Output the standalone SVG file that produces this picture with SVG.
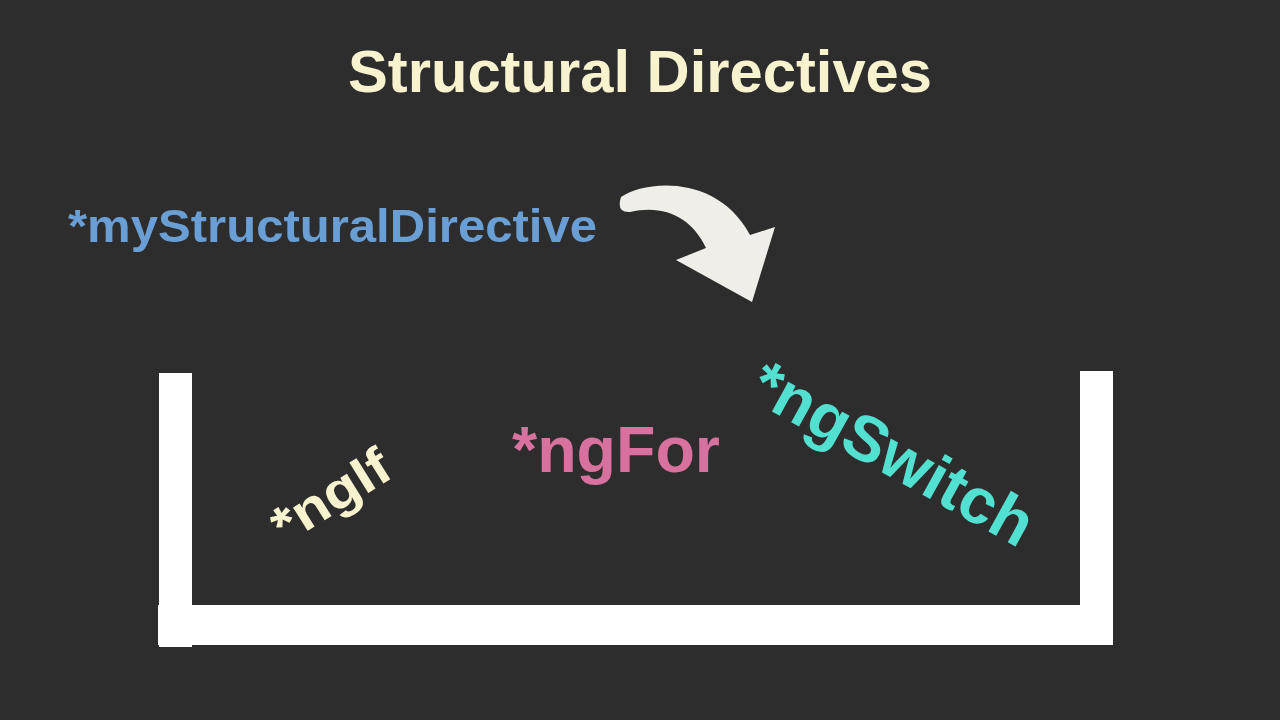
<svg xmlns="http://www.w3.org/2000/svg" width="1280" height="720" viewBox="0 0 1280 720">
<style>
.t{font-family:"Liberation Sans",Arial,sans-serif;font-weight:bold}
.bar{fill:#ffffff}
</style>
<rect width="1280" height="720" fill="#2d2d2d"/>
<g id="title"><text class="t" x="348" y="92" font-size="59" fill="#f8f3cf" textLength="584" lengthAdjust="spacingAndGlyphs">Structural Directives</text></g>
<g id="myStructuralDirective"><text class="t" x="68" y="242" font-size="47" fill="#6a9fd6" textLength="529" lengthAdjust="spacingAndGlyphs">*myStructuralDirective</text></g>
<g id="container">
<rect class="bar" x="159" y="373" width="33" height="274"/>
<rect class="bar" x="158" y="605" width="955" height="40"/>
<rect class="bar" x="1080" y="371" width="33" height="274"/>
</g>
<g id="ngIf"><text class="t" transform="translate(285,545) rotate(-32)" font-size="52" fill="#f8f3cf" textLength="130" lengthAdjust="spacingAndGlyphs">*ngIf</text></g>
<g id="ngFor"><text class="t" x="512" y="472" font-size="64" fill="#d9719f" textLength="208" lengthAdjust="spacingAndGlyphs">*ngFor</text></g>
<g id="ngSwitch"><text class="t" transform="translate(746,397) rotate(29)" font-size="64" fill="#52e0d0" textLength="312" lengthAdjust="spacingAndGlyphs">*ngSwitch</text></g>
<g id="connectors">
<path d="M621,197 C645,180 718,174 750,235 L775,227 L752,302 L676,260 L706,248 C692,218 665,204 630,212 Q616,213 621,197 Z" fill="#efeee8"/>
</g>
</svg>
